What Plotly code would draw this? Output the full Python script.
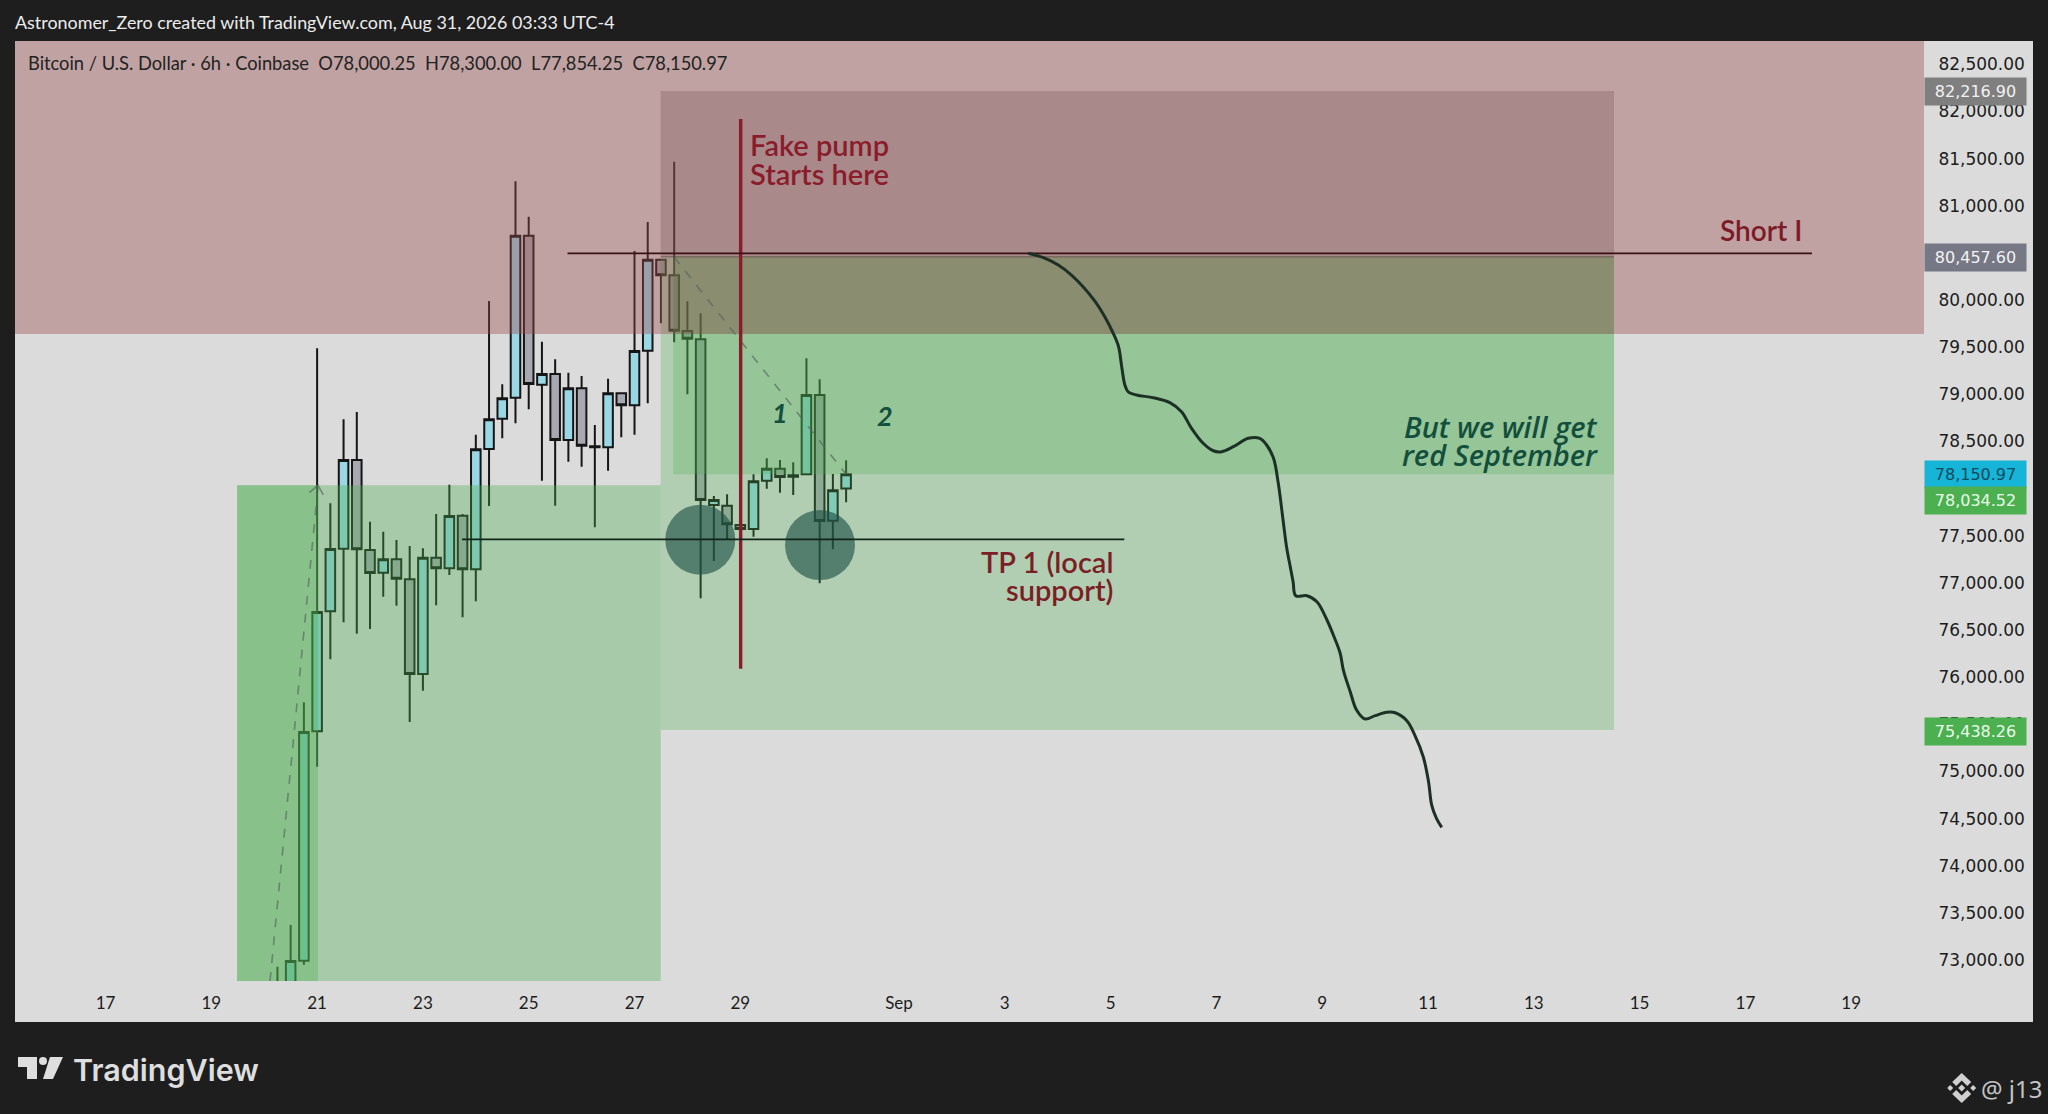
import pandas as pd
import plotly.graph_objects as go

W, H = 2048, 1114

candle_times = pd.date_range('2026-08-20 06:00', periods=44, freq='6h')
opens = [72600, 72600, 72992, 75425, 76698, 77362, 78303, 77348, 77107, 77250, 77037,
         76033, 77267, 77154, 77712, 77143, 78420, 78741, 78964, 80682, 79102, 79215,
         78515, 79063, 78448, 78438, 79010, 78883, 79462, 80427, 80262, 79671, 79583,
         77826, 77818, 77613, 77571, 78083, 78211, 78141, 78151, 78992, 77659, 78000.25]
highs = [72928, 73371, 75733, 79488, 77843, 78734, 78812, 77648, 77542, 77454, 77391,
         77366, 77730, 78041, 77730, 78571, 79989, 79106, 81259, 80884, 79558, 79371,
         79229, 79194, 78674, 79165, 79010, 80520, 80827, 80427, 81467, 79986, 79859,
         77921, 77939, 77640, 78151, 78321, 78303, 78278, 79382, 79159, 78154, 78300]
lows = [72500, 72500, 72950, 75050, 76189, 76581, 76460, 76510, 76853, 76757, 75524,
        75856, 76762, 77083, 76634, 76804, 77815, 78533, 78692, 78841, 78083, 77818,
        78285, 78232, 77589, 78189, 78544, 78571, 78904, 79753, 79551, 79000, 76836,
        77232, 77465, 77520, 77489, 77998, 77956, 77932, 78151, 76995, 77356, 77854.25]
closes = [72700, 72989, 75418, 76691, 77359, 78303, 77355, 77104, 77250, 77044, 76033,
          77267, 77154, 77709, 77143, 78416, 78734, 78957, 80682, 79109, 79215, 78515,
          79063, 78455, 78438, 79010, 78883, 79459, 80427, 80262, 79674, 79589, 77879,
          77879, 77621, 77571, 78077, 78211, 78122, 78126, 78992, 77656, 77981, 78150.97]

price_ticks = list(range(73000, 83000, 500))
date_ticks = ['2026-08-17', '2026-08-19', '2026-08-21', '2026-08-23', '2026-08-25', '2026-08-27',
              '2026-08-29', '2026-09-01', '2026-09-03', '2026-09-05', '2026-09-07', '2026-09-09',
              '2026-09-11', '2026-09-13', '2026-09-15', '2026-09-17', '2026-09-19']
date_labels = ['17', '19', '21', '23', '25', '27', '29', 'Sep', '3', '5', '7', '9', '11', '13', '15', '17', '19']

x_start, x_end = '2026-08-15 06:56', '2026-09-20 09:02'
y_low, y_high = 72777, 82747

# projected path, days after Aug 17 and price
curve_days = [17.44, 17.73, 18.01, 18.26, 18.48, 18.71, 18.89, 19.05, 19.15, 19.21, 19.27, 19.33, 19.49,
              19.81, 20.12, 20.34, 20.53, 20.75, 20.94, 21.10, 21.32, 21.60, 21.82, 21.95, 22.08, 22.17,
              22.26, 22.33, 22.39, 22.45, 22.50, 22.71, 22.90, 23.09, 23.21, 23.34, 23.40, 23.53, 23.65,
              23.81, 24.00, 24.22, 24.38, 24.60, 24.75, 24.91, 25.01, 25.07, 25.16, 25.26]
curve_prices = [80495, 80449, 80371, 80265, 80141, 79982, 79823, 79647, 79505, 79293, 79098, 79027, 78992,
                78964, 78911, 78815, 78639, 78480, 78401, 78391, 78444, 78533, 78533, 78462, 78321, 78056,
                77666, 77366, 77189, 77012, 76863, 76863, 76800, 76606, 76447, 76253, 76075, 75845, 75651,
                75556, 75591, 75627, 75622, 75538, 75386, 75156, 74891, 74643, 74502, 74407]

entry_price = 80457.60
stop_price = 82216.90
target_price = 75438.26
last_close = 78150.97
long_entry = 78034.52
short_line = 80495
tp_line = 77462
red_zone_floor = 79639

BG = '#1e1e1e'
PANE = '#dbdbdb'
GREEN = 'rgba(76,175,80,%s)'

fig = go.Figure()
fig.add_trace(go.Candlestick(
    x=candle_times, open=opens, high=highs, low=lows, close=closes,
    whiskerwidth=0, hoverinfo='skip',
    increasing=dict(fillcolor='#9ad7e4', line=dict(color='#151515', width=2)),
    decreasing=dict(fillcolor='#a8a8b0', line=dict(color='#151515', width=2))))


def add_zone(x0, x1, y0, y1, color):
    fig.add_trace(go.Scatter(x=[x0, x1, x1, x0, x0], y=[y0, y0, y1, y1, y0], mode='lines', fill='toself',
                             fillcolor=color, line=dict(width=0), hoverinfo='skip'))


def add_line(x, y, color, width, dash='solid', shape='linear'):
    fig.add_trace(go.Scatter(x=x, y=y, mode='lines', hoverinfo='skip',
                             line=dict(color=color, width=width, dash=dash, shape=shape)))


# position boxes, green first so the red band sits over them
add_zone('2026-08-19 11:40', '2026-08-27 11:53', y_low, long_entry, GREEN % .36)
add_zone('2026-08-19 11:40', '2026-08-21 00:24', y_low, long_entry, GREEN % .34)
add_zone('2026-08-27 11:53', '2026-09-14 12:23', target_price, entry_price, GREEN % .29)
add_zone('2026-08-27 17:36', '2026-09-14 12:23', last_close, entry_price, GREEN % .27)
add_zone(x_start, x_end, red_zone_floor, y_high, 'rgba(152,77,81,.4)')
add_zone('2026-08-27 11:53', '2026-09-14 12:23', entry_price, stop_price, 'rgba(115,79,81,.3)')
add_zone('2026-08-27 17:36', '2026-09-14 12:23', red_zone_floor, entry_price, 'rgba(60,90,40,.12)')
add_line(['2026-08-27 11:53', '2026-09-14 12:23'], [entry_price, entry_price], 'rgba(60,40,40,.35)', 1.5)

# dashed position paths with their arrow heads
add_line(['2026-08-20 02:38', '2026-08-21 00:24'], [72777, 78020], 'rgba(85,100,90,.65)', 1.6, 'dash')
add_line(['2026-08-20 20:27', '2026-08-21 00:24', '2026-08-21 02:48'], [77956, 78034, 77932],
         'rgba(85,100,90,.65)', 1.6)
add_line(['2026-08-27 17:55', '2026-08-31 00:00'], [entry_price, last_close], 'rgba(85,100,90,.65)', 1.6, 'dash')

fig.add_trace(go.Scatter(x=['2026-08-28 05:50', '2026-08-30 12:10'], y=[77458, 77401], mode='markers',
                         hoverinfo='skip',
                         marker=dict(size=70, color='rgba(32,82,70,.64)', line=dict(width=0))))

add_line(['2026-08-29 00:10', '2026-08-29 00:10'], [81920, 76089], '#8b1c2c', 3.4)
add_line(['2026-08-25 17:36', '2026-09-18 06:14'], [short_line, short_line], '#3a1014', 1.8)
add_line(['2026-08-23 17:46', '2026-09-05 06:14'], [tp_line, tp_line], '#10241a', 1.8)

curve_x = [pd.Timestamp('2026-08-17') + pd.Timedelta(days=d) for d in curve_days]
add_line(curve_x, curve_prices, '#1d3026', 3, shape='spline')


def px(x, y):
    return x / W, 1 - y / H


def add_text(x, y, text, size, color, anchor='left', family='Lato', weight='normal', **kw):
    fx, fy = px(x, y)
    fig.add_annotation(x=fx, y=fy, xref='paper', yref='paper', text=text, showarrow=False, xanchor=anchor,
                       yanchor='middle', font=dict(size=size, color=color, family=family, weight=weight), **kw)


def add_poly(points, color='#dedede'):
    path = 'M ' + ' L '.join('%.5f %.5f' % px(*p) for p in points) + ' Z'
    fig.add_shape(type='path', path=path, xref='paper', yref='paper', fillcolor=color, line=dict(width=0))


# pane behind plot and price axis
x0, y0 = px(15, 41)
x1, y1 = px(2033, 1022)
fig.add_shape(type='rect', xref='paper', yref='paper', x0=x0, x1=x1, y0=y1, y1=y0, fillcolor=PANE,
              line=dict(width=0), layer='below')

add_text(13, 22, 'Astronomer_Zero created with TradingView.com, Aug 31, 2026 03:33 UTC-4', 17.9, '#ececec')
add_text(26, 63, 'Bitcoin / U.S. Dollar · 6h · Coinbase  O78,000.25  H78,300.00  L77,854.25  C78,150.97',
         18.3, '#222222')

add_text(748, 145, 'Fake pump', 29, '#8b1c2c', weight=600)
add_text(748, 173, 'Starts here', 29, '#8b1c2c', weight=600)
add_text(1115, 561, 'TP 1 (local', 29, '#7a1f26', 'right', weight=600)
add_text(1115, 589, 'support)', 29, '#7a1f26', 'right', weight=600)
add_text(1804, 230, 'Short I', 28, '#7d1a28', 'right', weight=600)
add_text(1600, 426, '<i>But we will get</i>', 29, '#124f3c', 'right', 'Open Sans', 600)
add_text(1600, 454, '<i>red September</i>', 29, '#124f3c', 'right', 'Open Sans', 600)
add_text(780, 412, '<b><i>1</i></b>', 27, '#124f3c', 'center')
add_text(885, 415, '<b><i>2</i></b>', 27, '#124f3c', 'center')

badge_texts = ['82,216.90', '80,457.60', '78,150.97', '78,034.52', '75,438.26']
badge_rows = [92, 257, 475, 500.5, 731]
badge_fills = ['#7f7f7f', '#777885', '#16b4d6', '#4caf50', '#4caf50']
badge_inks = ['#f2f2f2', '#f2f2f2', '#0f4a60', '#eafbea', '#eafbea']
for text, row, fill, ink in zip(badge_texts, badge_rows, badge_fills, badge_inks):
    add_text(1975.5, row, text, 16, ink, 'center', 'DejaVu Sans', bgcolor=fill, width=99, height=25)

# TradingView mark
add_poly([(18, 1057), (37, 1057), (37, 1079), (27, 1079), (27, 1067), (18, 1067)])
add_poly([(50, 1057), (63, 1057), (53, 1079), (43, 1079)])
dx0, dy0 = px(39, 1057)
dx1, dy1 = px(47, 1065)
fig.add_shape(type='circle', xref='paper', yref='paper', x0=dx0, x1=dx1, y0=dy0, y1=dy1, fillcolor='#dedede',
              line=dict(width=0))
add_text(71, 1069, 'TradingView', 30.5, '#dedede', family='Inter', weight=600)

# small diamond mark and handle, bottom right
cx, cy = 1961.7, 1088
for ox, r in [(0, 3.5), (-11.5, 3), (11.5, 3)]:
    add_poly([(cx + ox, cy - r), (cx + ox + r, cy), (cx + ox, cy + r), (cx + ox - r, cy)], '#d0d0d0')
for s in (1, -1):
    add_poly([(cx, cy - 15 * s), (cx + 9.5, cy - 6 * s), (cx + 5.5, cy - 2 * s), (cx, cy - 7.5 * s),
              (cx - 5.5, cy - 2 * s), (cx - 9.5, cy - 6 * s)], '#d0d0d0')
add_text(1979, 1088, '@ j13', 24, '#c4c4c4', family='Noto Sans')

fig.update_layout(
    width=W, height=H, autosize=False, margin=dict(l=0, r=0, t=0, b=0),
    paper_bgcolor=BG, plot_bgcolor=PANE, showlegend=False, boxgap=.15, boxgroupgap=.15,
    font=dict(family='DejaVu Sans', color='#1c1c1c'),
    xaxis=dict(domain=[15 / W, 1924 / W], range=[x_start, x_end], type='date', rangeslider=dict(visible=False),
               showgrid=False, zeroline=False, showline=False, tickmode='array', tickvals=date_ticks,
               ticktext=date_labels, ticks='outside', ticklen=7, tickcolor='rgba(0,0,0,0)',
               tickfont=dict(size=17, family='Lato', color='#1c1c1c')),
    yaxis=dict(domain=[1 - 981 / H, 1 - 41 / H], range=[y_low, y_high], side='right', showgrid=False,
               zeroline=False, showline=False, tickmode='array', tickvals=price_ticks, tickformat=',.2f',
               ticks='outside', ticklen=10, tickcolor='rgba(0,0,0,0)',
               tickfont=dict(size=17, family='DejaVu Sans', color='#1c1c1c')))

fig.write_html("out.html", config={'displayModeBar': False}, post_script="document.body.style.margin='0';")
